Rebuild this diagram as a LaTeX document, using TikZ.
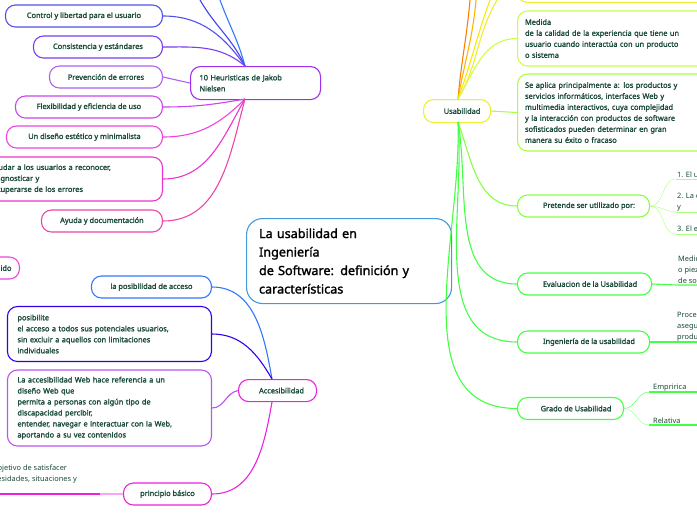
\documentclass[tikz,border=0pt]{standalone}
\usepackage{fontspec}
\setmainfont{Noto Sans}[AutoFakeBold=1.6]
\usetikzlibrary{positioning}
\definecolor{txt}{HTML}{1A4A3A}
\definecolor{cA}{HTML}{5050EE}
\definecolor{cB}{HTML}{7A3CF0}
\definecolor{cC}{HTML}{B060F0}
\definecolor{cD}{HTML}{CC44EE}
\definecolor{cE}{HTML}{EE44DD}
\definecolor{cF}{HTML}{EE33CC}
\definecolor{cG}{HTML}{EE44AA}
\definecolor{cH}{HTML}{A030F0}
\definecolor{cI}{HTML}{3377FF}
\definecolor{cJ}{HTML}{3300EE}
\definecolor{cK}{HTML}{BB55EE}
\definecolor{cL}{HTML}{EE22DD}
\definecolor{cY}{HTML}{EEEE33}
\definecolor{cY2}{HTML}{CCFF44}
\definecolor{cY3}{HTML}{AAFF44}
\definecolor{cG1}{HTML}{88FF44}
\definecolor{cG2}{HTML}{44FF44}
\definecolor{cT}{HTML}{4499DD}

\begin{document}
\begin{tikzpicture}[
            x=1pt, y=-1pt,
            every node/.style={font=\fontsize{7.4}{11}\selectfont\bfseries, text=txt},
            topic/.style={draw, rectangle, rounded corners=10pt, fill=white, line width=1.1pt, inner sep=0pt, minimum height=22pt, align=left},
            leaf/.style={font=\fontsize{7.4}{11}\selectfont, align=left, anchor=south west, inner sep=1pt},
            link/.style={line width=1.1pt}
        ]
            \path[use as bounding box, clip] (0,0) rectangle (697,520);

            % centre
            \node[topic, draw=cT, minimum width=205pt, minimum height=85pt, rounded corners=16pt,
                  font=\fontsize{12.6}{18.5}\selectfont\bfseries, text=black, text width=180pt, anchor=north west] (root) at (246,218)
                  {La usabilidad en\\Ingeniería\\de Software: definición y\\características};

            % heuristics branch
            \node[topic, draw=cH, minimum width=130pt, minimum height=33pt, text width=112pt, anchor=north west] (heur) at (190,66) {10 Heuristicas de Jakob\\Nielsen};
            \coordinate (heurtop) at (245,66);
            \coordinate (heurbot) at (245,99);
            \coordinate (up1) at (200,0);
            \coordinate (up2) at (220,0);
            \node[topic, draw=cA, minimum width=157pt, anchor=east] (h1) at (163,16) {Control y libertad para el usuario};
            \node[topic, draw=cB, minimum width=129pt, anchor=east] (h2) at (163,47) {Consistencia y estándares};
            \node[topic, draw=cC, minimum width=113pt, anchor=east] (h3) at (163,77) {Prevención de errores};
            \node[topic, draw=cD, minimum width=147pt, anchor=east] (h4) at (163,107) {Flexibilidad y eficiencia de uso};
            \node[topic, draw=cE, minimum width=156pt, anchor=east] (h5) at (163,137) {Un diseño estético y minimalista};
            \node[topic, draw=cF, minimum width=195pt, minimum height=44pt, text width=150pt, anchor=east] (h6) at (163,179) {Ayudar a los usuarios a reconocer,\\diagnosticar y\\recuperarse de los errores};
            \node[topic, draw=cG, minimum width=121pt, anchor=east] (h7) at (163,221) {Ayuda y documentación};

            \draw[link, color=cA!80!blue] (heurtop) to[out=115, in=-60] (up1);
            \draw[link, color=cI] (heurtop) to[out=105, in=-70] (up2);
            \draw[link, cA] (heurtop) to[out=125, in=0] (h1.east);
            \draw[link, cB] (heurtop) to[out=140, in=0] (h2.east);
            \draw[link, cC] (heur.west) -- (h3.east);
            \draw[link, cD] (heurbot) to[out=190, in=0] (h4.east);
            \draw[link, cE] (heurbot) to[out=225, in=0] (h5.east);
            \draw[link, cF] (heurbot) to[out=240, in=0] (h6.east);
            \draw[link, cG] (heurbot) to[out=255, in=0] (h7.east);

            % accessibility branch
            \node[topic, draw=cE, minimum width=40pt, anchor=east] (other) at (20,268) {Contenido\hspace*{8pt}};
            \node[topic, draw=cL, minimum width=78pt, anchor=north west] (acc) at (238,379) {\hspace*{8pt}Accesibilidad};
            \coordinate (acctop) at (272,379);
            \coordinate (accbot) at (272,402);
            \node[topic, draw=cI, minimum width=120pt, anchor=east] (a1) at (212,287) {la posibilidad de acceso};
            \node[topic, draw=cJ, minimum width=204pt, minimum height=55pt, text width=184pt, anchor=east] (a2) at (212,334)
                  {posibilite\\el acceso a todos sus potenciales usuarios,\\sin excluir a aquellos con limitaciones\\individuales};
            \node[topic, draw=cK, minimum width=204pt, minimum height=76pt, text width=184pt, anchor=east] (a3) at (212,408)
                  {La accesibilidad Web hace referencia a un\\diseño Web que\\permita a personas con algún tipo de\\discapacidad percibir,\\entender, navegar e interactuar con la Web,\\aportando a su vez contenidos};
            \node[topic, draw=cL, minimum width=88pt, anchor=east] (a4) at (212,494) {principio básico};
            \coordinate (a4end) at (0,494);
            \node[leaf] (a4txt) at (-16,484) {el objetivo de satisfacer\\necesidades, situaciones y};

            \draw[link, cI] (acctop) to[out=100, in=0] (a1.east);
            \draw[link, cJ] (acctop) to[out=120, in=0] (a2.east);
            \draw[link, cK] (acc.west) to[out=190, in=0] (a3.east);
            \draw[link, cL] (accbot) to[out=260, in=0] (a4.east);
            \draw[link, cL!40] (a4.west) -- (100,494);
            \draw[link, cL] (100,494) -- (a4end);

            % usability branch
            \node[topic, draw=cY, minimum width=67pt, minimum height=23pt, anchor=north west] (usa) at (423,99) {\hspace*{10pt}Usabilidad};
            \coordinate (usatop) at (458,99);
            \coordinate (usabot) at (458,122);
            \coordinate (upu1) at (470,0);
            \coordinate (upu2) at (476,0);
            \coordinate (upu3) at (490,0);
            \coordinate (upu4) at (497,0);
            \node[topic, draw=cY, minimum width=200pt, anchor=south west] (u0) at (517,3) {};
            \node[topic, draw=cY2, minimum width=200pt, minimum height=55pt, text width=185pt, anchor=west] (u1) at (517,38.5)
                  {Medida\\de la calidad de la experiencia que tiene un\\usuario cuando interactúa con un producto\\o sistema};
            \node[topic, draw=cY3, minimum width=200pt, minimum height=77pt, text width=185pt, anchor=west] (u2) at (517,112.5)
                  {Se aplica principalmente a: los productos y\\servicios informáticos, interfaces Web y\\multimedia interactivos, cuya complejidad\\y la interacción con productos de software\\sofisticados pueden determinar en gran\\manera su éxito o fracaso};
            \node[topic, draw=cG1, minimum width=132pt, anchor=west] (u3) at (517,206) {\hspace*{11pt}Pretende ser utilizado por:};
            \node[topic, draw=cG2, minimum width=134pt, anchor=west] (u4) at (517,284) {\hspace*{11pt}Evaluacion de la Usabilidad};
            \node[topic, draw=cG2, minimum width=132pt, anchor=west] (u5) at (517,342) {\hspace*{11pt}Ingeniería de la usabilidad};
            \node[topic, draw=cG2, minimum width=106pt, anchor=west] (u6) at (517,408.5) {\hspace*{11pt}Grado de Usabilidad};

            \draw[link, orange] (usatop) to[out=85, in=-95] (upu1);
            \draw[link, orange!60!yellow] (usatop) to[out=80, in=-95] (upu2);
            \draw[link, yellow!90!orange] (usatop) to[out=70, in=-110] (upu3);
            \draw[link, cY] (usatop) to[out=60, in=-120] (upu4);
            \draw[link, cY2] (usatop) to[out=60, in=180] (u1.west);
            \draw[link, cY3] (usa.east) -- (u2.west);
            \draw[link, cG1] (usabot) to[out=-70, in=180] (u3.west);
            \draw[link, cG2] (usabot) to[out=-80, in=180] (u4.west);
            \draw[link, cG2] (usabot) to[out=-85, in=180] (u5.west);
            \draw[link, cG2] (usabot) to[out=-88, in=180] (u6.west);

            % leaves
            \node[leaf] (p1) at (676,179) {1. El usuario final};
            \node[leaf] (p2) at (676,212) {2. La organización\\y};
            \node[leaf] (p3) at (676,234) {3. El equipo};
            \draw[cG1!70] (p1.south west) -- (p1.south east);
            \draw[cG1!70] (p2.south west) -- (p2.south east);
            \draw[cG1!70] (p3.south west) -- (p3.south east);
            \draw[cG1!70] (u3.east) to[out=0, in=180] (p1.south west);
            \draw[cG1!70] (u3.east) to[out=0, in=180] (p2.south west);
            \draw[cG1!70] (u3.east) to[out=0, in=180] (p3.south west);
            \node[leaf] (e1) at (677,285) {Medida\\o pieza\\de software};
            \draw[link, cG2] (u4.east) -- (e1.south west) -- (e1.south east);
            \node[leaf] (i1) at (676,342) {Proceso\\asegurar\\productos};
            \draw[link, cG2] (u5.east) -- (i1.south west) -- (i1.south east);
            \node[leaf] (g1) at (649,392) {\hspace*{3pt}Empririca\hspace*{60pt}};
            \node[leaf] (g2) at (649,425) {\hspace*{3pt}Relativa\hspace*{60pt}};
            \draw[cG2] (u6.east) to[out=0, in=180] (g1.south west);
            \draw[cG2!60] (u6.east) to[out=0, in=180] (g2.south west);
            \draw[link, cG2] (g1.south west) -- (g1.south east);
            \draw[link, cG2] (g2.south west) -- (g2.south east);
        \end{tikzpicture}
\end{document}
